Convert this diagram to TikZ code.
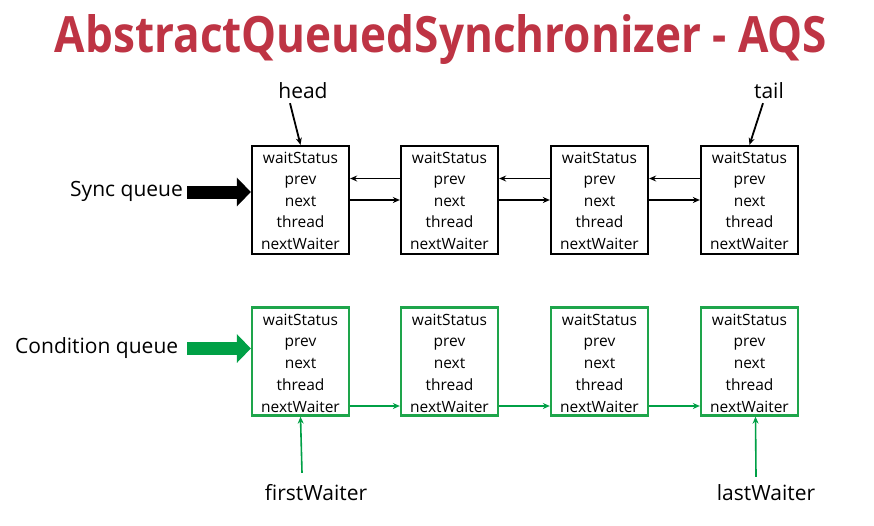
\documentclass[tikz,border=0pt]{standalone}
\usepackage{fontspec}
\setmainfont{Open Sans}
\usetikzlibrary{arrows.meta}
\definecolor{ttl}{RGB}{190,52,68}
\definecolor{grn}{RGB}{0,160,70}
\definecolor{grnbox}{RGB}{30,165,75}
\begin{document}
\begin{tikzpicture}[x=1pt,y=1pt,
 box/.style={draw, line width=2.3pt, minimum width=97pt, minimum height=108pt, inner sep=0pt},
 gbox/.style={box, draw=grnbox},
 field/.style={font=\fontsize{15.5}{18}\selectfont, inner sep=0pt, text height=12pt, text depth=0pt, anchor=base},
 lab/.style={font=\fontsize{21}{24}\selectfont, inner sep=0pt, text height=15pt, text depth=0pt, anchor=base},
 link/.style={line width=1.8pt, -{Stealth[length=7pt,width=6pt]}},
 glink/.style={line width=1.6pt, draw=grn, -{Stealth[length=7pt,width=6pt]}},
 block/.style={line width=13pt, -{Triangle[length=14pt,width=28pt]}},
 gblock/.style={block, draw=grn, fill=grn},
]
\useasboundingbox (0,0) rectangle (874,-525);
\fill[white] (0,0) rectangle (874,-525);

\node[anchor=base, inner sep=0pt, text=ttl] (title) at (441,-52)
  {\resizebox{772pt}{38pt}{\bfseries AbstractQueuedSynchronizer - AQS}};

\foreach \i/\x in {1/300.5,2/449.5,3/599.5,4/749.5}{
  \node[box] (t\i) at (\x,-200) {};
  \node[field] (t\i-ws) at (\x,-163) {waitStatus};
  \node[field] (t\i-p)  at (\x,-184.5) {prev};
  \node[field] (t\i-n)  at (\x,-206) {next};
  \node[field] (t\i-t)  at (\x,-227.5) {thread};
  \node[field] (t\i-nw) at (\x,-249) {nextWaiter};
  \node[gbox] (c\i) at (\x,-361.5) {};
  \node[field] (c\i-ws) at (\x,-325) {waitStatus};
  \node[field] (c\i-p)  at (\x,-346.75) {prev};
  \node[field] (c\i-n)  at (\x,-368.5) {next};
  \node[field] (c\i-t)  at (\x,-390.25) {thread};
  \node[field] (c\i-nw) at (\x,-412) {nextWaiter};
}

\foreach \a/\b in {1/2,2/3,3/4}{
  \draw[link] (t\b.west |- t\b-p) -- (t\a.east |- t\b-p);
  \draw[link] (t\a.east |- t\a-n) -- (t\b.west |- t\a-n);
  \draw[glink] (c\a.east |- c\a-nw) -- (c\b.west |- c\a-nw);
}

\node[lab, anchor=base west] (sync) at (70,-196) {Sync queue};
\coordinate (sq) at (187,-192);
\draw[block] (sq) -- (t1.west |- sq);

\node[lab, anchor=base west] (cq) at (15,-353) {Condition queue};
\coordinate (cqs) at (187,-348.5);
\draw[gblock] (cqs) -- (c1.west |- cqs);

\node[lab] (head) at (303,-98) {head};
\draw[link] ([xshift=-13pt,yshift=-5pt]head.south) -- (t1.north);
\node[lab] (tail) at (769,-98) {tail};
\draw[link] ([xshift=-6pt,yshift=-5pt]tail.south) -- (t4.north);

\node[lab] (fw) at (316,-500) {firstWaiter};
\draw[glink] ([xshift=-14pt,yshift=12pt]fw.north) -- (c1.south);
\node[lab] (lw) at (766,-500) {lastWaiter};
\draw[glink] ([xshift=-10pt,yshift=8pt]lw.north) -- ([xshift=6pt]c4.south);
\end{tikzpicture}
\end{document}
